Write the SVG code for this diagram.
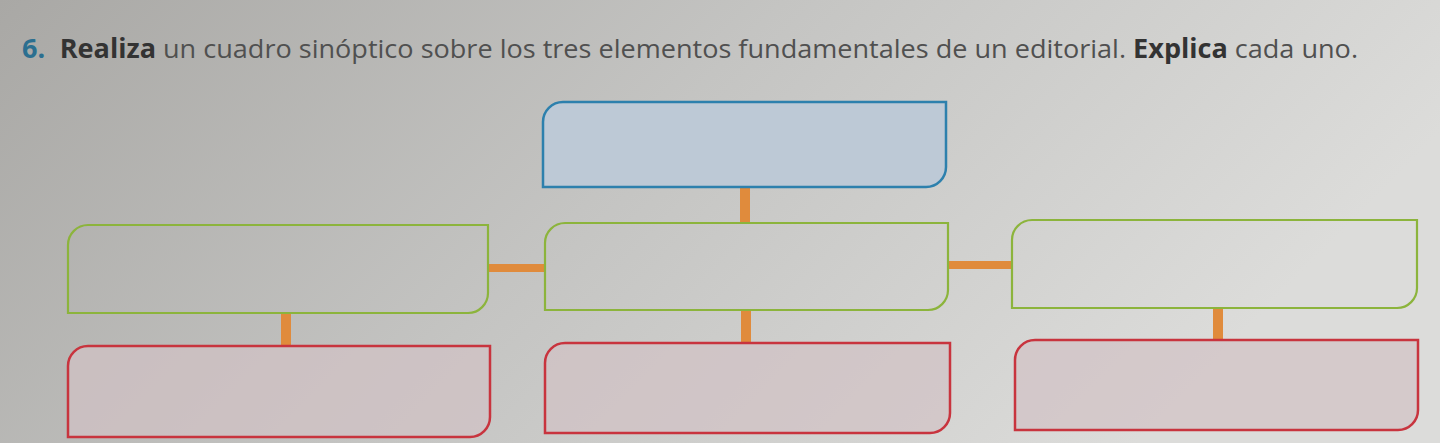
<svg xmlns="http://www.w3.org/2000/svg" width="1440" height="443" viewBox="0 0 1440 443">
<defs>
<linearGradient id="bg" x1="0" y1="0" x2="1" y2="0.3">
<stop offset="0" stop-color="#a9a8a5"/>
<stop offset="0.5" stop-color="#c4c4c2"/>
<stop offset="1" stop-color="#dcdcda"/>
</linearGradient>
<style>
.blue{fill:#bdc9d6;stroke:#2d80ad;stroke-width:2.5}
.green{fill:none;stroke:#8cb43c;stroke-width:2.2}
.red{fill:#d2c2c5;fill-opacity:0.7;stroke:#c8343e;stroke-width:2.5}
.bar{fill:#e08b3c}
.t{font-family:"Open Sans","Noto Sans","Liberation Sans",sans-serif;font-size:26px;fill:#505050}
.b{font-weight:bold;fill:#333}
.n{font-weight:bold;fill:#2b6f90}
</style>
</defs>
<rect width="1440" height="443" fill="url(#bg)"/>
<text class="t" x="22" y="58" textLength="1336" lengthAdjust="spacingAndGlyphs"><tspan class="n">6.</tspan><tspan class="b" dx="14">Realiza</tspan> un cuadro sinóptico sobre los tres elementos fundamentales de un editorial. <tspan class="b">Explica</tspan> cada uno.</text>
<g id="connectors">
<rect class="bar" x="740" y="188" width="10" height="35"/>
<rect class="bar" x="488" y="264" width="57" height="8"/>
<rect class="bar" x="948" y="261" width="64" height="8"/>
<rect class="bar" x="281" y="313" width="10" height="33"/>
<rect class="bar" x="741" y="310" width="10" height="33"/>
<rect class="bar" x="1213" y="308" width="10" height="32"/>
</g>
<g id="top"><path class="blue" d="M563,102 H946 V167 A20 20 0 0 1 926,187 H543 V122 A20 20 0 0 1 563,102 Z"/></g>
<g id="green-left"><path class="green" d="M88,225 H488 V293 A20 20 0 0 1 468,313 H68 V245 A20 20 0 0 1 88,225 Z"/></g>
<g id="green-middle"><path class="green" d="M565,223 H948 V290 A20 20 0 0 1 928,310 H545 V243 A20 20 0 0 1 565,223 Z"/></g>
<g id="green-right"><path class="green" d="M1032,220 H1417 V288 A20 20 0 0 1 1397,308 H1012 V240 A20 20 0 0 1 1032,220 Z"/></g>
<g id="red-left"><path class="red" d="M88,346 H490 V417 A20 20 0 0 1 470,437 H68 V366 A20 20 0 0 1 88,346 Z"/></g>
<g id="red-middle"><path class="red" d="M565,343 H950 V413 A20 20 0 0 1 930,433 H545 V363 A20 20 0 0 1 565,343 Z"/></g>
<g id="red-right"><path class="red" d="M1035,340 H1418 V410 A20 20 0 0 1 1398,430 H1015 V360 A20 20 0 0 1 1035,340 Z"/></g>
</svg>
